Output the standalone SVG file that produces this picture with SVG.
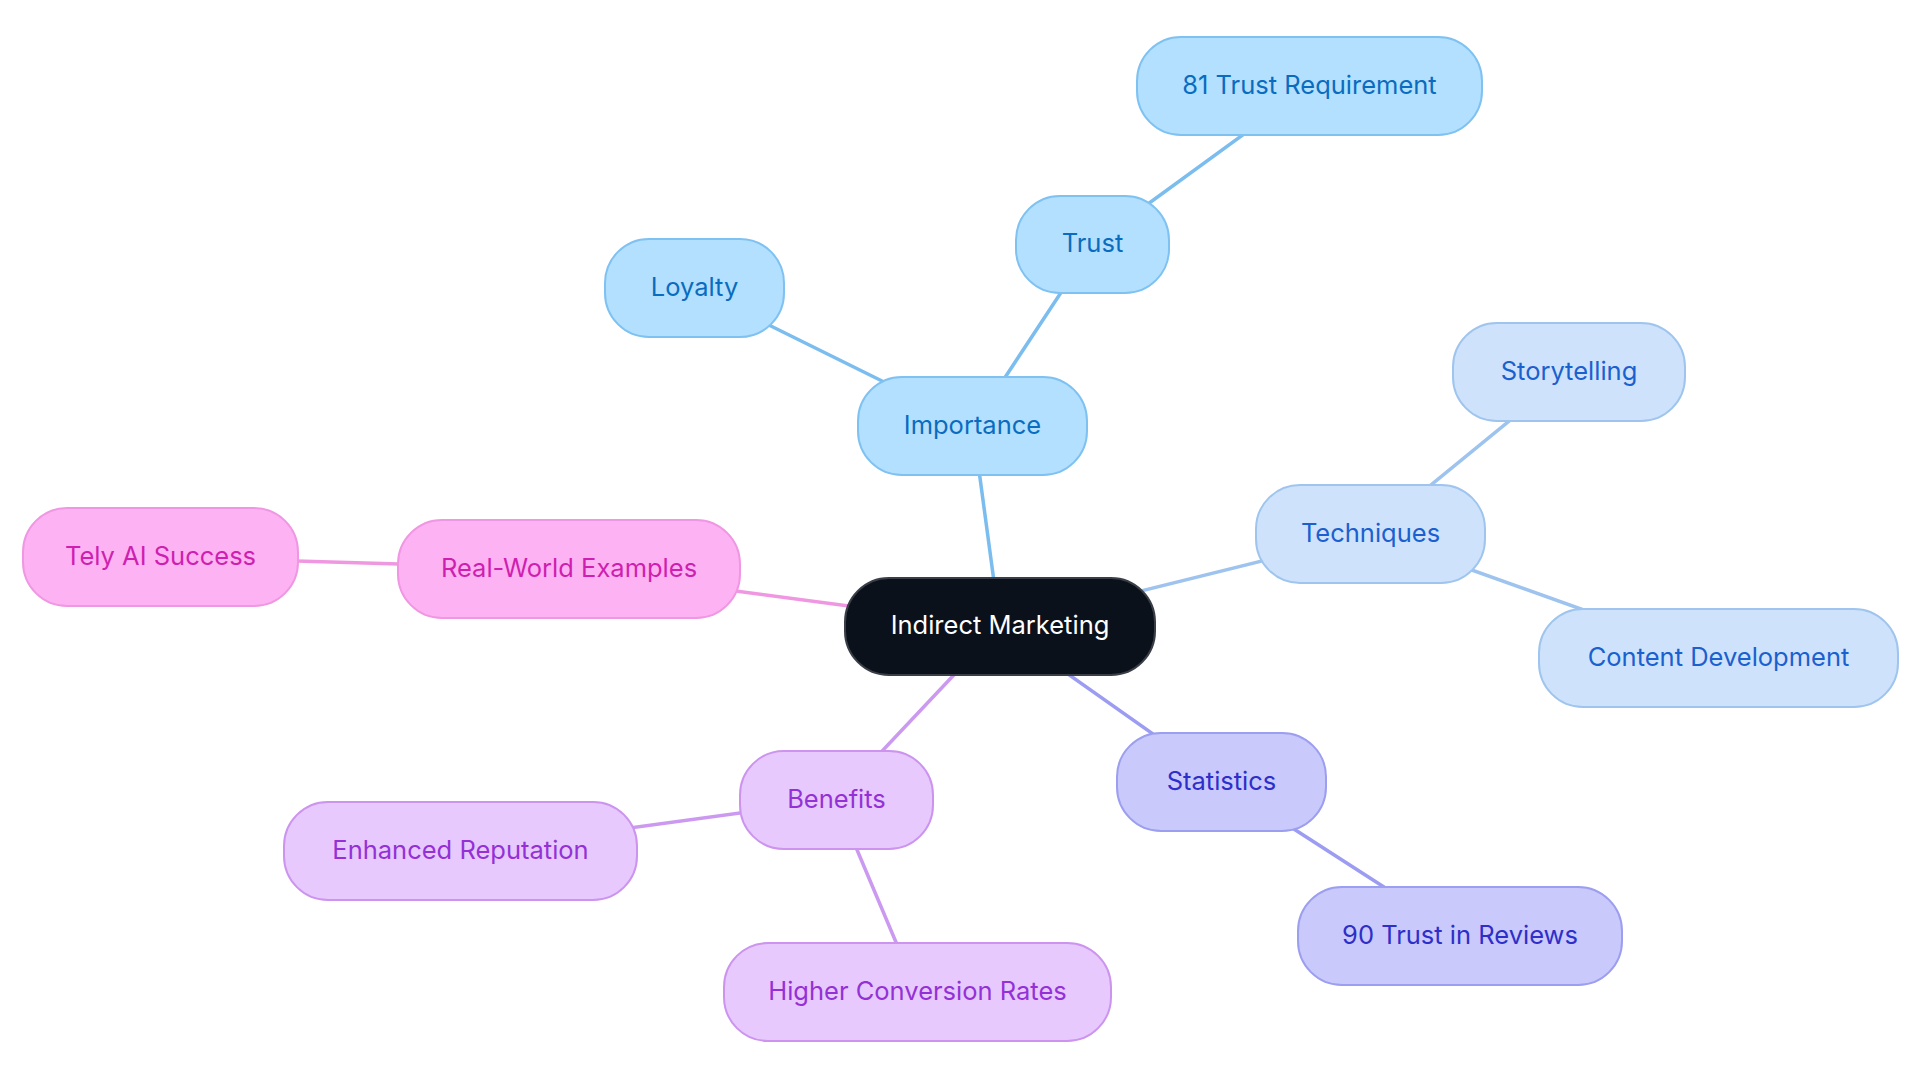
<svg xmlns="http://www.w3.org/2000/svg" width="1920" height="1083" viewBox="0 0 1920 1083">
<style>
text{font-family:Inter,"Noto Sans",sans-serif;font-size:25.5px;text-anchor:middle;dominant-baseline:central}
.e{stroke-width:3.5;fill:none;stroke-linecap:round}
.n rect{stroke-width:2}
.imp rect{fill:#b3e0fe;stroke:#7fc2f2}.imp text{fill:#0a6cbf}
.tec rect{fill:#cee3fb;stroke:#9fc5ef}.tec text{fill:#1a60cf}
.sta rect{fill:#c9c9fc;stroke:#9c9ef0}.sta text{fill:#2e2ec8}
.ben rect{fill:#e8c9fd;stroke:#cc94ef}.ben text{fill:#9431d6}
.rea rect{fill:#fdb3f3;stroke:#f097e3}.rea text{fill:#cf1fb0}
</style>
<rect width="1920" height="1083" fill="#ffffff"/>
<g id="connectors">
<line class="e" stroke="#7abdee" x1="1000" y1="626" x2="973" y2="426"/>
<line class="e" stroke="#7abdee" x1="973" y1="426" x2="1093" y2="244"/>
<line class="e" stroke="#7abdee" x1="1093" y1="244" x2="1310" y2="86"/>
<line class="e" stroke="#7abdee" x1="973" y1="426" x2="694" y2="288"/>
<line class="e" stroke="#9dc3ee" x1="1000" y1="626" x2="1371" y2="534"/>
<line class="e" stroke="#9dc3ee" x1="1371" y1="534" x2="1569" y2="372"/>
<line class="e" stroke="#9dc3ee" x1="1371" y1="534" x2="1718" y2="658"/>
<line class="e" stroke="#9c9df2" x1="1000" y1="626" x2="1221" y2="782"/>
<line class="e" stroke="#9c9df2" x1="1221" y1="782" x2="1460" y2="936"/>
<line class="e" stroke="#cc99f0" x1="1000" y1="626" x2="836" y2="800"/>
<line class="e" stroke="#cc99f0" x1="836" y1="800" x2="460" y2="851"/>
<line class="e" stroke="#cc99f0" x1="836" y1="800" x2="917" y2="992"/>
<line class="e" stroke="#ef97e1" x1="1000" y1="626" x2="569" y2="569"/>
<line class="e" stroke="#ef97e1" x1="569" y1="569" x2="160" y2="557"/>
</g>
<g id="n-center" class="n"><rect x="845" y="578" width="310" height="97" rx="44" fill="#0b111b" stroke="#3a3f47"/><text x="1000" y="624.5" fill="#ffffff">Indirect Marketing</text></g>
<g id="n-importance" class="n imp"><rect x="858" y="377" width="229" height="98" rx="44"/><text x="972.5" y="424">Importance</text></g>
<g id="n-trust" class="n imp"><rect x="1016" y="196" width="153" height="97" rx="44"/><text x="1092.5" y="242.5">Trust</text></g>
<g id="n-81" class="n imp"><rect x="1137" y="37" width="345" height="98" rx="44"/><text x="1309.5" y="84">81 Trust Requirement</text></g>
<g id="n-loyalty" class="n imp"><rect x="605" y="239" width="179" height="98" rx="44"/><text x="694.5" y="286">Loyalty</text></g>
<g id="n-techniques" class="n tec"><rect x="1256" y="485" width="229" height="98" rx="44"/><text x="1370.5" y="532">Techniques</text></g>
<g id="n-story" class="n tec"><rect x="1453" y="323" width="232" height="98" rx="44"/><text x="1569" y="370">Storytelling</text></g>
<g id="n-content" class="n tec"><rect x="1539" y="609" width="359" height="98" rx="44"/><text x="1718.5" y="656">Content Development</text></g>
<g id="n-stats" class="n sta"><rect x="1117" y="733" width="209" height="98" rx="44"/><text x="1221.5" y="780">Statistics</text></g>
<g id="n-90" class="n sta"><rect x="1298" y="887" width="324" height="98" rx="44"/><text x="1460" y="934">90 Trust in Reviews</text></g>
<g id="n-benefits" class="n ben"><rect x="740" y="751" width="193" height="98" rx="44"/><text x="836.5" y="798">Benefits</text></g>
<g id="n-enhanced" class="n ben"><rect x="284" y="802" width="353" height="98" rx="44"/><text x="460.5" y="849">Enhanced Reputation</text></g>
<g id="n-higher" class="n ben"><rect x="724" y="943" width="387" height="98" rx="44"/><text x="917.5" y="990">Higher Conversion Rates</text></g>
<g id="n-real" class="n rea"><rect x="398" y="520" width="342" height="98" rx="44"/><text x="569" y="567">Real-World Examples</text></g>
<g id="n-tely" class="n rea"><rect x="23" y="508" width="275" height="98" rx="44"/><text x="160.5" y="555">Tely AI Success</text></g>
</svg>
